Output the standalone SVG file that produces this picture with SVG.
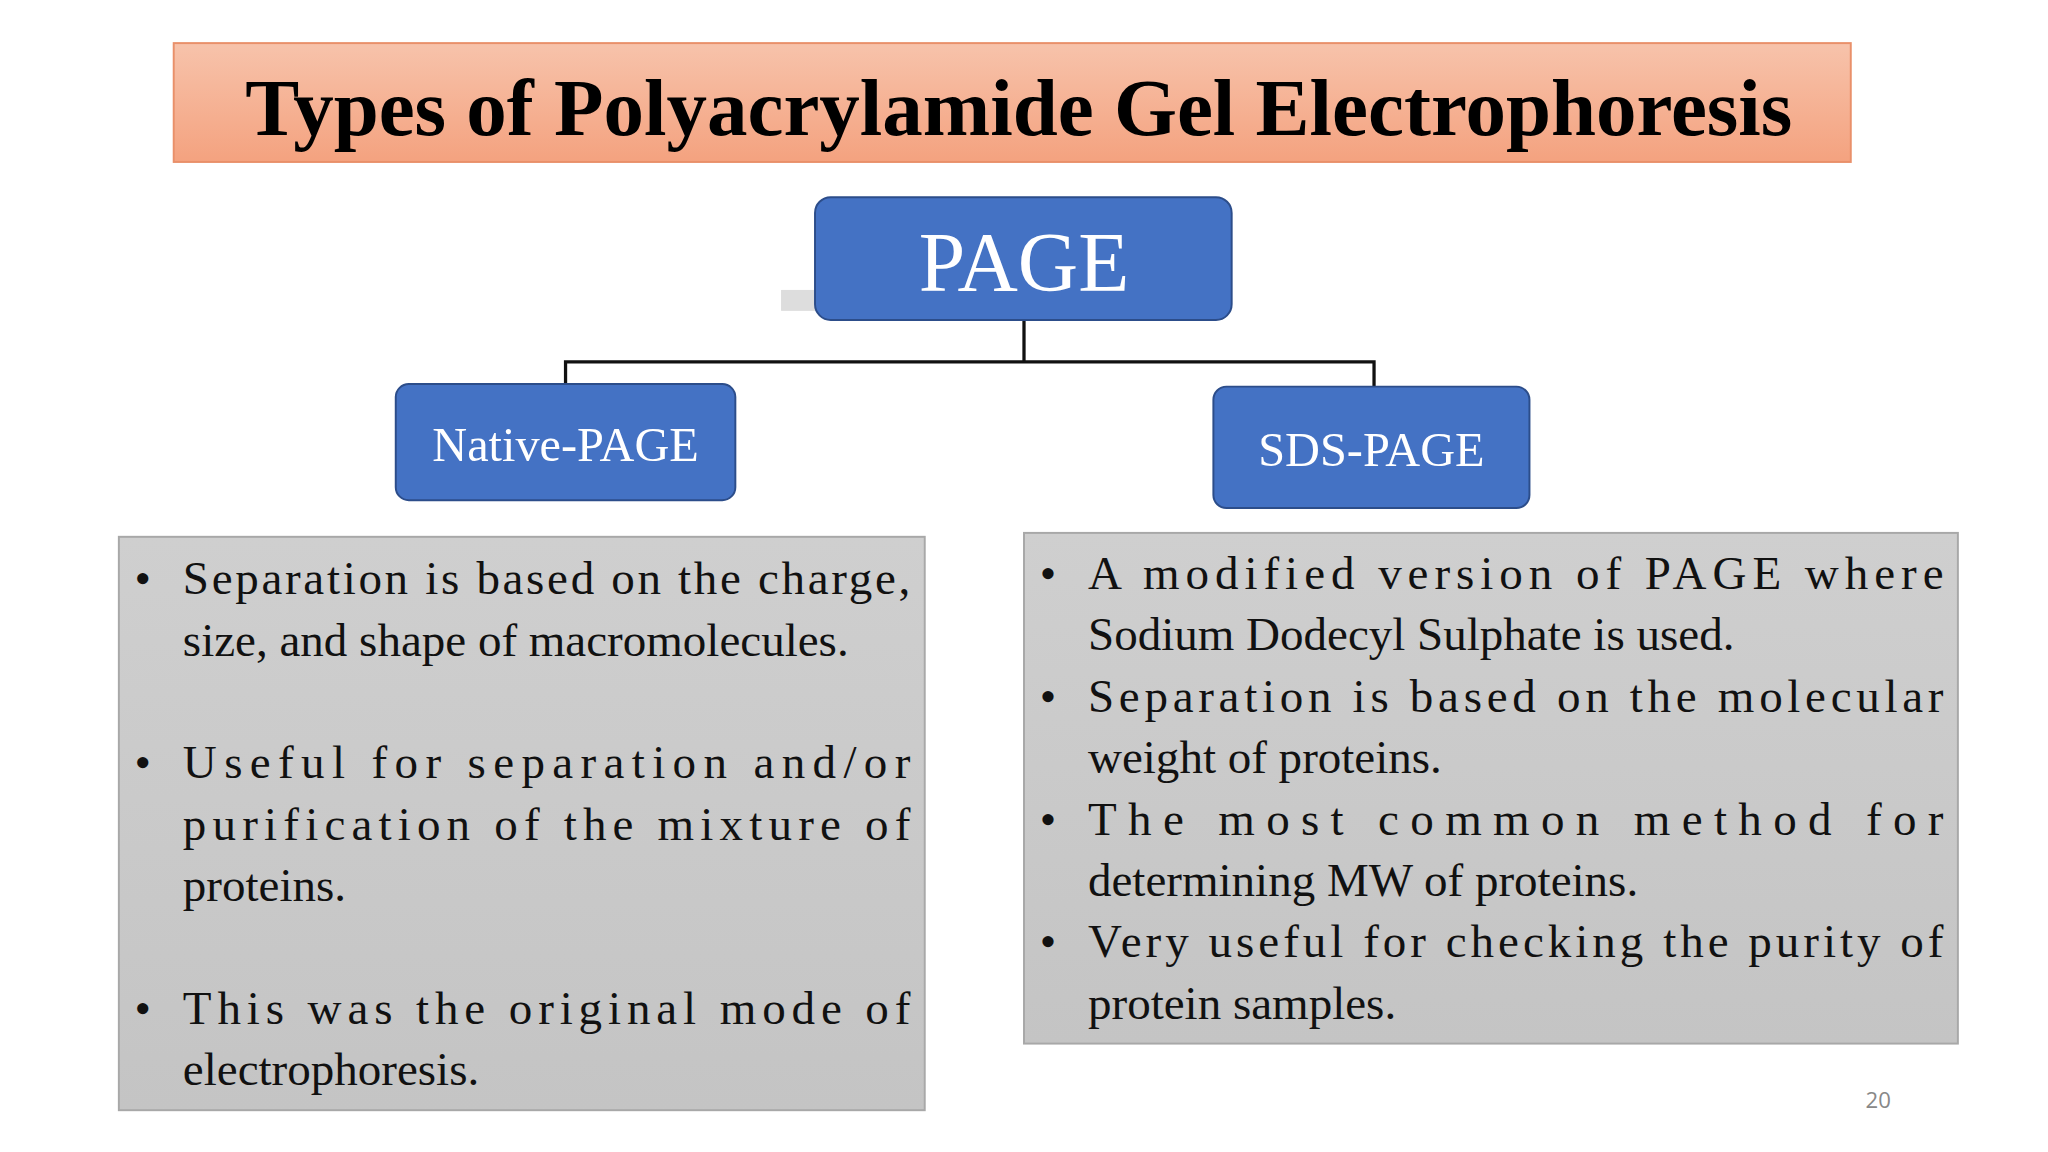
<svg xmlns="http://www.w3.org/2000/svg" width="2048" height="1152" viewBox="0 0 2048 1152">
<defs>
<linearGradient id="tg" x1="0" y1="0" x2="0" y2="1"><stop offset="0" stop-color="#f7c3ab"/><stop offset="1" stop-color="#f4a27f"/></linearGradient>
<linearGradient id="gg" x1="0" y1="0" x2="0" y2="1"><stop offset="0" stop-color="#cfcfcf"/><stop offset="1" stop-color="#c4c4c4"/></linearGradient>
<style>
.blue{fill:#4472c4;stroke:#2c4d8a;stroke-width:1.5}
.bt{font-family:"Liberation Serif",serif;fill:#fff;text-anchor:middle}
.t{font-family:"Liberation Serif",serif;font-size:36px;fill:#111}
.gray{fill:url(#gg);stroke:#a8a8a8;stroke-width:1.5}
.c{fill:none;stroke:#111;stroke-width:2.5}
</style>
</defs>
<rect width="2048" height="1152" fill="#fff"/>
<g transform="scale(1.30612)">
<g id="title"><rect x="133" y="33" width="1284" height="91" fill="url(#tg)" stroke="#e9906a" stroke-width="1.5"/>
<text x="780" y="103" text-anchor="middle" font-family="Liberation Serif,serif" font-weight="bold" font-size="62" fill="#000">Types of Polyacrylamide Gel Electrophoresis</text></g>
<g id="connectors"><path class="c" d="M784 245V277M433 294V277H1052V296"/></g>
<g id="page"><rect x="598" y="222" width="30" height="16" fill="#bbb" opacity="0.5"/><rect class="blue" x="624" y="151" width="319" height="94" rx="12"/><text class="bt" x="784" y="223" font-size="64">PAGE</text></g>
<g id="native"><rect class="blue" x="303" y="294" width="260" height="89" rx="10"/><text class="bt" x="433" y="353" font-size="37">Native-PAGE</text></g>
<g id="sds"><rect class="blue" x="929" y="296" width="242" height="93" rx="10"/><text class="bt" x="1050" y="357" font-size="37">SDS-PAGE</text></g>
<g id="native-desc"><rect class="gray" x="91" y="411" width="617" height="439"/>
<g class="t">
<text x="103" y="455">•</text><text x="140" y="455" textLength="557" lengthAdjust="spacing">Separation is based on the charge,</text>
<text x="140" y="502">size, and shape of macromolecules.</text>
<text x="103" y="596">•</text><text x="140" y="596" textLength="557" lengthAdjust="spacing">Useful for separation and/or</text>
<text x="140" y="643" textLength="557" lengthAdjust="spacing">purification of the mixture of</text>
<text x="140" y="690">proteins.</text>
<text x="103" y="784">•</text><text x="140" y="784" textLength="557" lengthAdjust="spacing">This was the original mode of</text>
<text x="140" y="831">electrophoresis.</text>
</g></g>
<g id="sds-desc"><rect class="gray" x="784" y="408" width="715" height="391"/>
<g class="t">
<text x="796" y="451">•</text><text x="833" y="451" textLength="655" lengthAdjust="spacing">A modified version of PAGE where</text>
<text x="833" y="498">Sodium Dodecyl Sulphate is used.</text>
<text x="796" y="545">•</text><text x="833" y="545" textLength="655" lengthAdjust="spacing">Separation is based on the molecular</text>
<text x="833" y="592">weight of proteins.</text>
<text x="796" y="639">•</text><text x="833" y="639" textLength="655" lengthAdjust="spacing">The most common method for</text>
<text x="833" y="686">determining MW of proteins.</text>
<text x="796" y="733">•</text><text x="833" y="733" textLength="655" lengthAdjust="spacing">Very useful for checking the purity of</text>
<text x="833" y="780">protein samples.</text>
</g></g>
<text x="1438" y="848" text-anchor="middle" font-family="Open Sans,sans-serif" font-size="17" fill="#888">20</text>
</g>
</svg>
